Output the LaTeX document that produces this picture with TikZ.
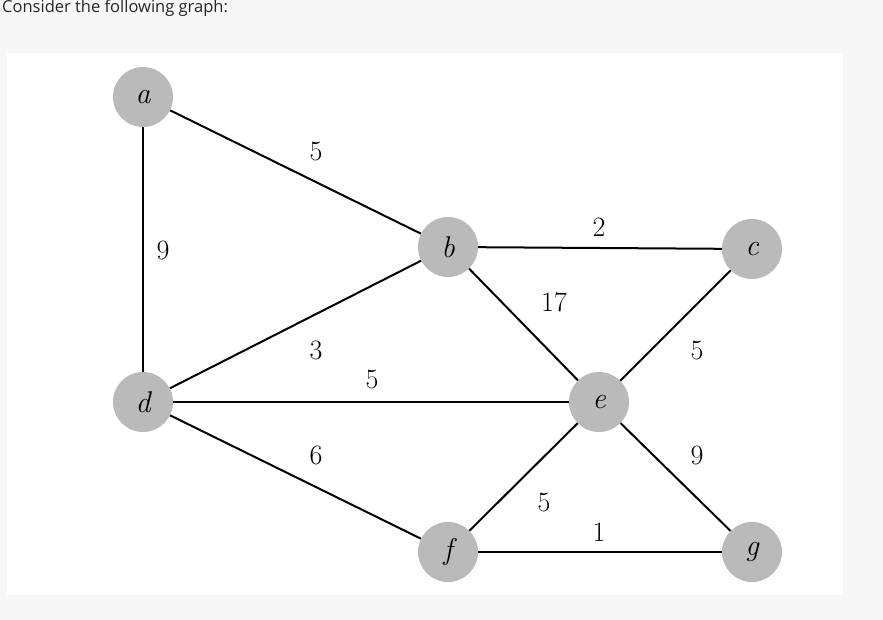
\documentclass[tikz,border=0pt]{standalone}
\usepackage{fontspec}
\newfontfamily\uifont{Open Sans}
\begin{document}
\begin{tikzpicture}[x=1pt,y=-1pt,
  vert/.style={circle,fill=black!27,minimum size=60pt,inner sep=0pt,font=\fontsize{30}{36}\selectfont\itshape},
  edge/.style={draw=black,line width=2pt},
  wt/.style={font=\fontsize{28}{32}\selectfont}]
\fill[black!3!white] (0,0) rectangle (883,620);
\useasboundingbox (0,0) rectangle (883,620);
\fill[white] (7,53) rectangle (843,595);
\node[anchor=base west,font=\uifont\fontsize{16.5}{19}\selectfont,text=black!85,inner sep=0pt] (title) at (2,13) {Consider the following graph:};
\node[vert] (a) at (143,97) {a};
\node[vert] (b) at (448,247) {b};
\node[vert] (c) at (752,249) {c};
\node[vert] (d) at (143,402) {d};
\node[vert] (e) at (599,402) {e};
\node[vert] (f) at (448,552) {f};
\node[vert] (g) at (752,552) {g};
\draw[edge] (a) -- (b);
\draw[edge] (a) -- (d);
\draw[edge] (b) -- (c);
\draw[edge] (b) -- (e);
\draw[edge] (b) -- (d);
\draw[edge] (d) -- (e);
\draw[edge] (c) -- (e);
\draw[edge] (d) -- (f);
\draw[edge] (e) -- (g);
\draw[edge] (e) -- (f);
\draw[edge] (f) -- (g);
\node[wt] (w1) at (316,151) {5};
\node[wt] (w2) at (163,250) {9};
\node[wt] (w3) at (599,227) {2};
\node[wt] (w4) at (554,302) {17};
\node[wt] (w5) at (316,350) {3};
\node[wt] (w6) at (372,379) {5};
\node[wt] (w7) at (697,350) {5};
\node[wt] (w8) at (316,455) {6};
\node[wt] (w9) at (697,455) {9};
\node[wt] (w10) at (544,502) {5};
\node[wt] (w11) at (599,532) {1};
\end{tikzpicture}
\end{document}
